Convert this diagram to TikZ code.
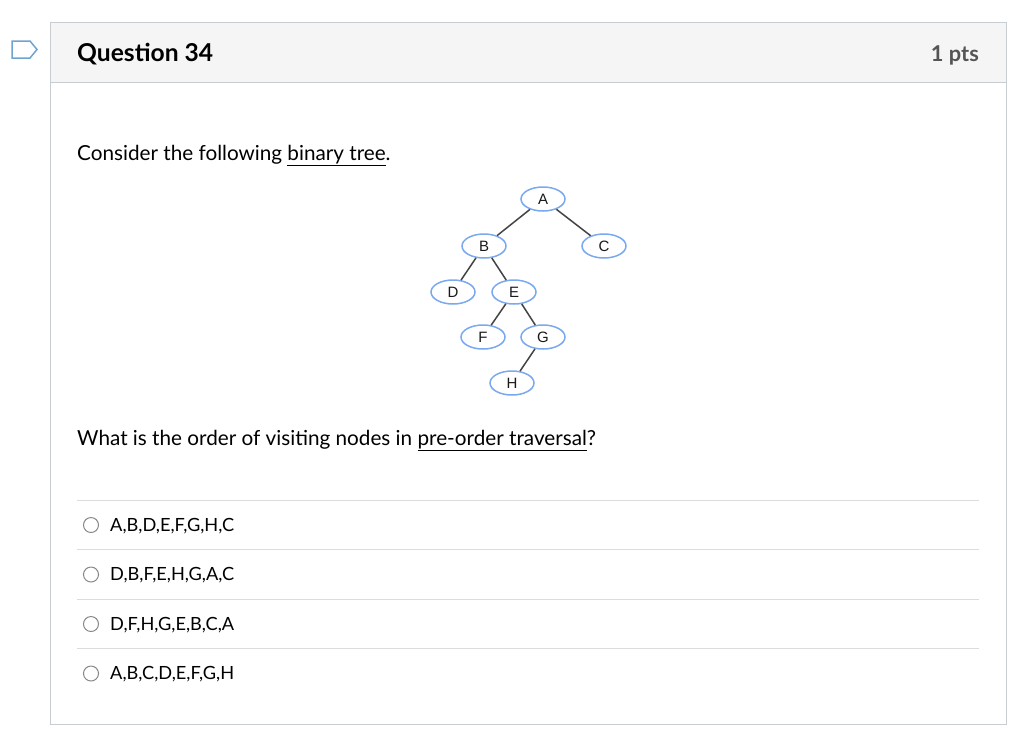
\documentclass[tikz,border=0pt]{standalone}
\usepackage{fontspec}
\setmainfont{Lato}
\newfontfamily\treefont{Liberation Sans}
\usetikzlibrary{shapes.geometric}
\definecolor{frame}{HTML}{C7CDD1}
\definecolor{headbg}{HTML}{F5F5F5}
\definecolor{sep}{HTML}{DDDDDD}
\definecolor{bookblue}{HTML}{6FA3D0}
\definecolor{nodeblue}{HTML}{7BA9F0}
\definecolor{edgegray}{HTML}{444444}
\definecolor{ptsgray}{HTML}{555555}
\definecolor{radiogray}{HTML}{888888}
\tikzset{
  tnode/.style={ellipse, draw=nodeblue, line width=1.5pt, fill=white, minimum width=44pt, minimum height=24pt, inner sep=0pt, font=\treefont\fontsize{15}{17}\selectfont, text=black!90},
  tedge/.style={draw=edgegray, line width=1.5pt},
  body/.style={anchor=base west, inner sep=0pt, font=\fontsize{20.7}{24}\selectfont, text=black},
  opt/.style={anchor=base west, inner sep=0pt, font=\fontsize{18.2}{22}\selectfont, text=black},
  radio/.style={circle, draw=radiogray, line width=1pt, minimum size=15pt, inner sep=0pt},
  sepline/.style={draw=sep, line width=1pt}
}
\begin{document}
\begin{tikzpicture}[x=1pt,y=-1pt]
\useasboundingbox (0,0) rectangle (1024,740);
\fill[white] (0,0) rectangle (1024,740);
% frame and header
\fill[headbg] (50,22) rectangle (1006,82);
\draw[frame, line width=1pt] (50,22) rectangle (1006,724);
\draw[frame, line width=1pt] (50,82) -- (1006,82);
% bookmark icon
\draw[bookblue, line width=1.5pt, line join=miter] (12,41) -- (30,41) -- (37,49.5) -- (30,58) -- (12,58) -- cycle;
\node[anchor=base west, inner sep=0pt, font=\bfseries\fontsize{24.6}{28}\selectfont, text=black] (title) at (77,61) {Question 34};
\node[anchor=base east, inner sep=0pt, font=\bfseries\fontsize{21.8}{26}\selectfont, text=ptsgray] (pts) at (979,61) {1 pts};
\node[body] (consider) at (77,160) {Consider the following \underline{binary tree}.};
% tree
\node[tnode] (A) at (543,199) {A};
\node[tnode] (B) at (484,246) {B};
\node[tnode] (C) at (604,246) {C};
\node[tnode] (D) at (453,292) {D};
\node[tnode] (E) at (514,292) {E};
\node[tnode] (F) at (483,337) {F};
\node[tnode] (G) at (543,337) {G};
\node[tnode] (H) at (512,383) {H};
\draw[tedge] (A) -- (B);
\draw[tedge] (A) -- (C);
\draw[tedge] (B) -- (D);
\draw[tedge] (B) -- (E);
\draw[tedge] (E) -- (F);
\draw[tedge] (E) -- (G);
\draw[tedge] (G) -- (H);
\node[body] (question) at (77,445) {What is the order of visiting nodes in \underline{pre-order traversal}?};
% separators
\draw[sepline] (77,500) -- (979,500);
\draw[sepline] (77,549.5) -- (979,549.5);
\draw[sepline] (77,599) -- (979,599);
\draw[sepline] (77,648.5) -- (979,648.5);
% options
\node[radio] (r1) at (91,525) {};
\node[radio] (r2) at (91,574.5) {};
\node[radio] (r3) at (91,624) {};
\node[radio] (r4) at (91,673.5) {};
\node[opt] (o1) at (110,531) {A,B,D,E,F,G,H,C};
\node[opt] (o2) at (110,580.5) {D,B,F,E,H,G,A,C};
\node[opt] (o3) at (110,630) {D,F,H,G,E,B,C,A};
\node[opt] (o4) at (110,679.5) {A,B,C,D,E,F,G,H};
\end{tikzpicture}
\end{document}
